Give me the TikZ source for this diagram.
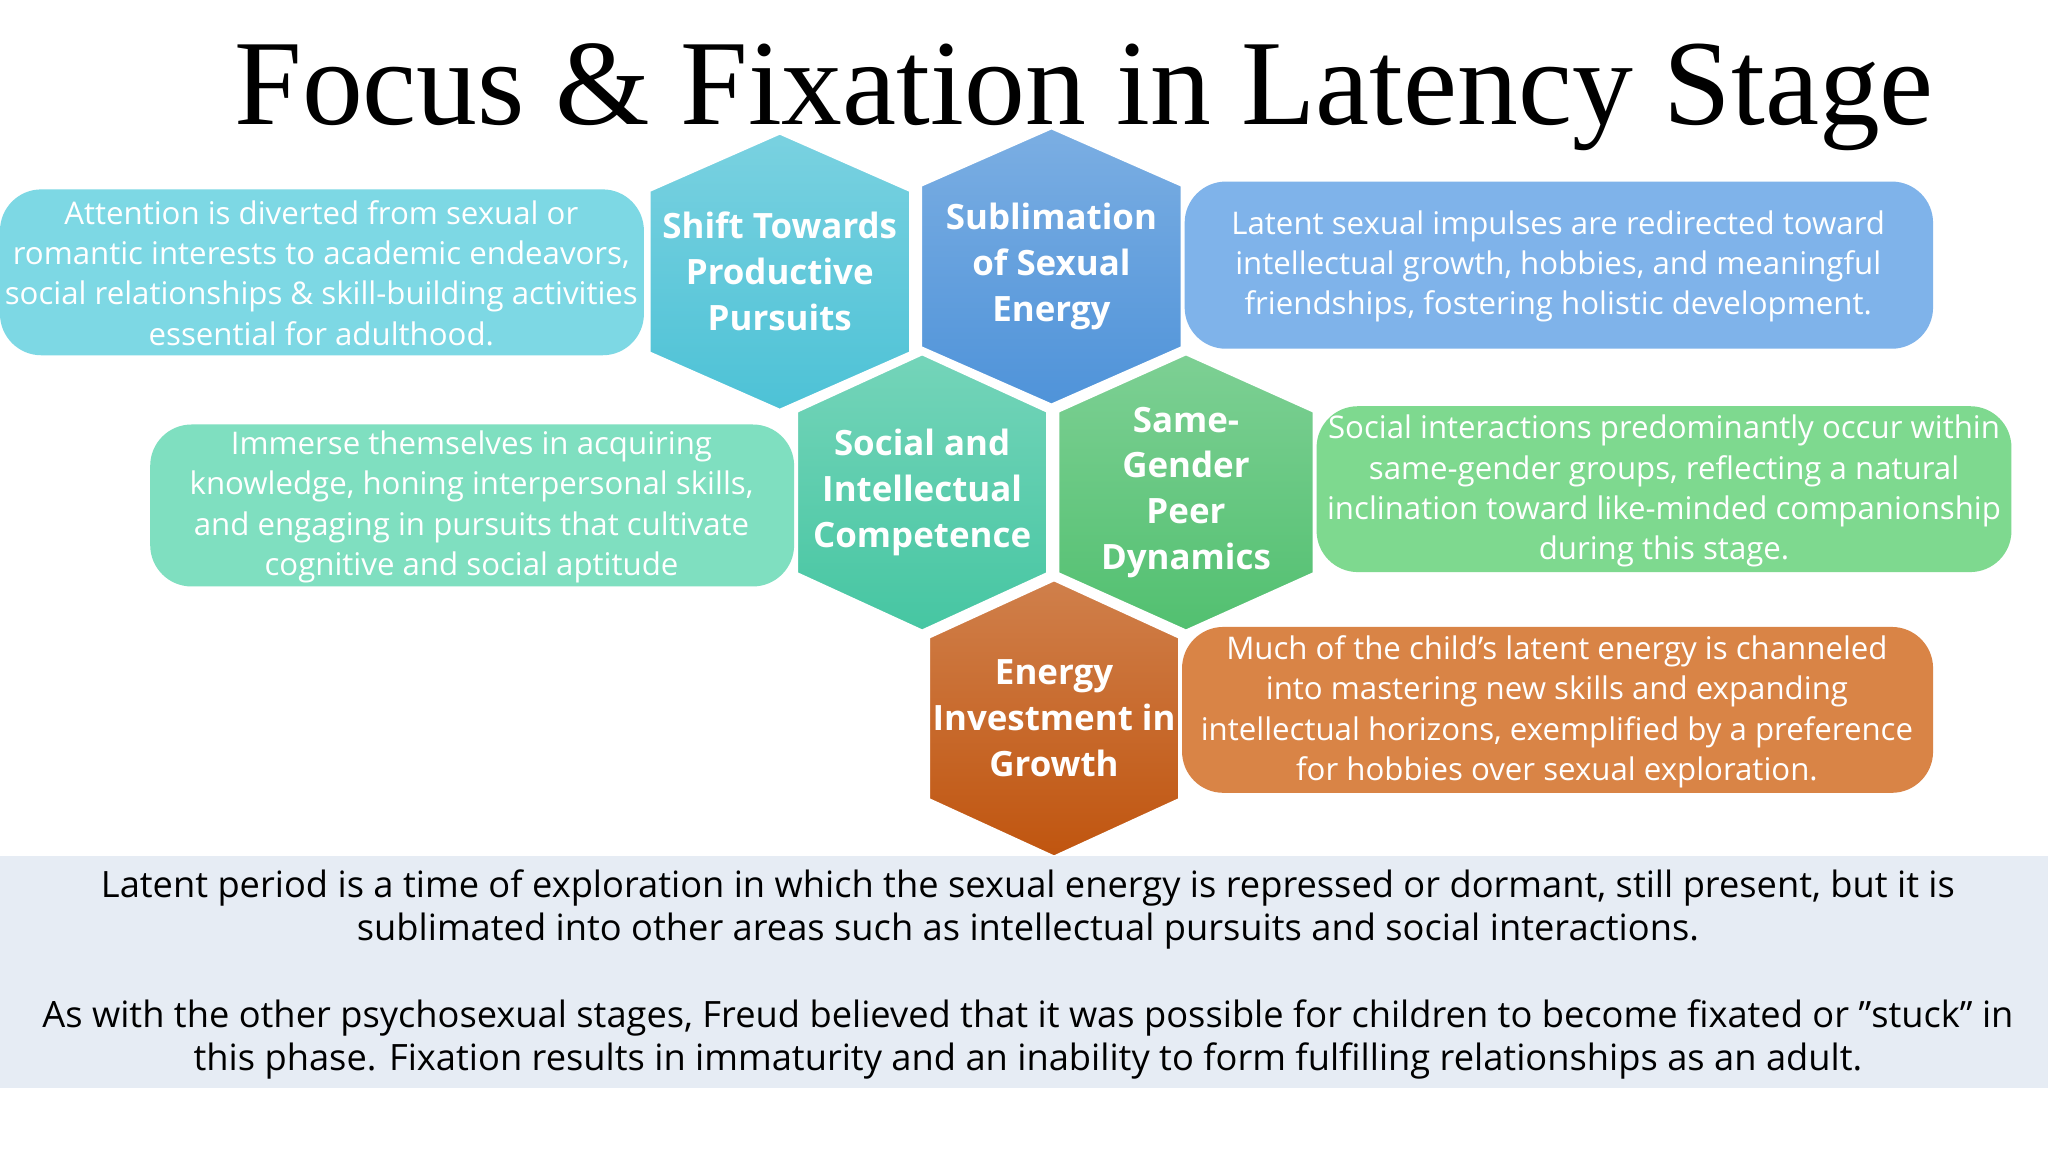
\documentclass[tikz,border=0pt]{standalone}
\usepackage{fontspec}
\setmainfont{Open Sans}
\newfontfamily\titlefont{Liberation Serif}
\begin{document}
\begin{tikzpicture}[x=0.02cm,y=-0.02cm,
  box/.style={rounded corners=18pt,text=white,align=center,font=\fontsize{13.6}{17.6}\selectfont,inner sep=0pt},
  hextext/.style={text=white,align=center,font=\bfseries\fontsize{15.2}{20}\selectfont},
  bottomtext/.style={align=center,font=\fontsize{15.8}{18.8}\selectfont,text=black}]
\useasboundingbox (0,0) rectangle (1568,882);
\fill[white] (0,0) rectangle (1568,882);
\newcommand\hexcell[6]{%
  \shade[top color=#5!75!white,bottom color=#5,draw=white,line width=1.2pt]
   (#2,#3-106) -- (#2+#4,#3-62) -- (#2+#4,#3+62) -- (#2,#3+106) -- (#2-#4,#3+62) -- (#2-#4,#3-62) -- cycle;
  \node[hextext] (#1) at (#2,#3) {#6};}
\definecolor{cA}{HTML}{7DD8E4}\definecolor{cB}{HTML}{7FB3EA}\definecolor{cC}{HTML}{7FDFC0}
\definecolor{cD}{HTML}{7ED98F}\definecolor{cE}{HTML}{D98446}
\definecolor{hA}{HTML}{4DC2D6}\definecolor{hB}{HTML}{4F93D9}\definecolor{hC}{HTML}{46C6A2}
\definecolor{hD}{HTML}{52C070}\definecolor{hE}{HTML}{C0550F}\definecolor{panel}{HTML}{E6ECF4}
\node[font=\titlefont\fontsize{53}{60}\selectfont,anchor=base] (title) at (830,95) {Focus \& Fixation in Latency Stage};
% boxes
\fill[cA,rounded corners=18pt] (0,145) rectangle (493,272);
\node[box] (ta) at (246,209) {Attention is diverted from sexual or\\romantic interests to academic endeavors,\\social relationships \& skill-building activities\\essential for adulthood.};
\fill[cB,rounded corners=18pt] (907,139) rectangle (1480,267);
\node[box] (tb) at (1193,204) {Latent sexual impulses are redirected toward\\intellectual growth, hobbies, and meaningful\\friendships, fostering holistic development.};
\fill[cC,rounded corners=18pt] (115,325) rectangle (608,449);
\node[box] (tc) at (361,388) {Immerse themselves in acquiring\\knowledge, honing interpersonal skills,\\and engaging in pursuits that cultivate\\cognitive and social aptitude};
\fill[cD,rounded corners=18pt] (1008,311) rectangle (1540,438);
\node[box] (td) at (1274,376) {Social interactions predominantly occur within\\same-gender groups, reflecting a natural\\inclination toward like-minded companionship\\during this stage.};
\fill[cE,rounded corners=18pt] (905,480) rectangle (1480,607);
\node[box] (te) at (1192,545) {Much of the child’s latent energy is channeled\\into mastering new skills and expanding\\intellectual horizons, exemplified by a preference\\for hobbies over sexual exploration.};
% hexes
\hexcell{h1}{597}{208}{100}{hA}{Shift Towards\\Productive\\Pursuits}
\hexcell{h2}{805}{204}{100}{hB}{Sublimation\\of Sexual\\Energy}
\hexcell{h3}{706}{377}{96}{hC}{Social and\\Intellectual\\Competence}
\hexcell{h4}{908}{377}{98}{hD}{Same-\\Gender\\Peer\\Dynamics}
\hexcell{h5}{807}{550}{96}{hE}{Energy\\Investment in\\Growth}
% panel
\fill[panel] (0,655) rectangle (1568,833);
\node[bottomtext] (p1) at (787,696) {Latent period is a time of exploration in which the sexual energy is repressed or dormant, still present, but it is\\sublimated into other areas such as intellectual pursuits and social interactions.};
\node[bottomtext] (p2) at (787,796) {As with the other psychosexual stages, Freud believed that it was possible for children to become fixated or "stuck" in\\this phase. Fixation results in immaturity and an inability to form fulfilling relationships as an adult.};
\end{tikzpicture}
\end{document}
